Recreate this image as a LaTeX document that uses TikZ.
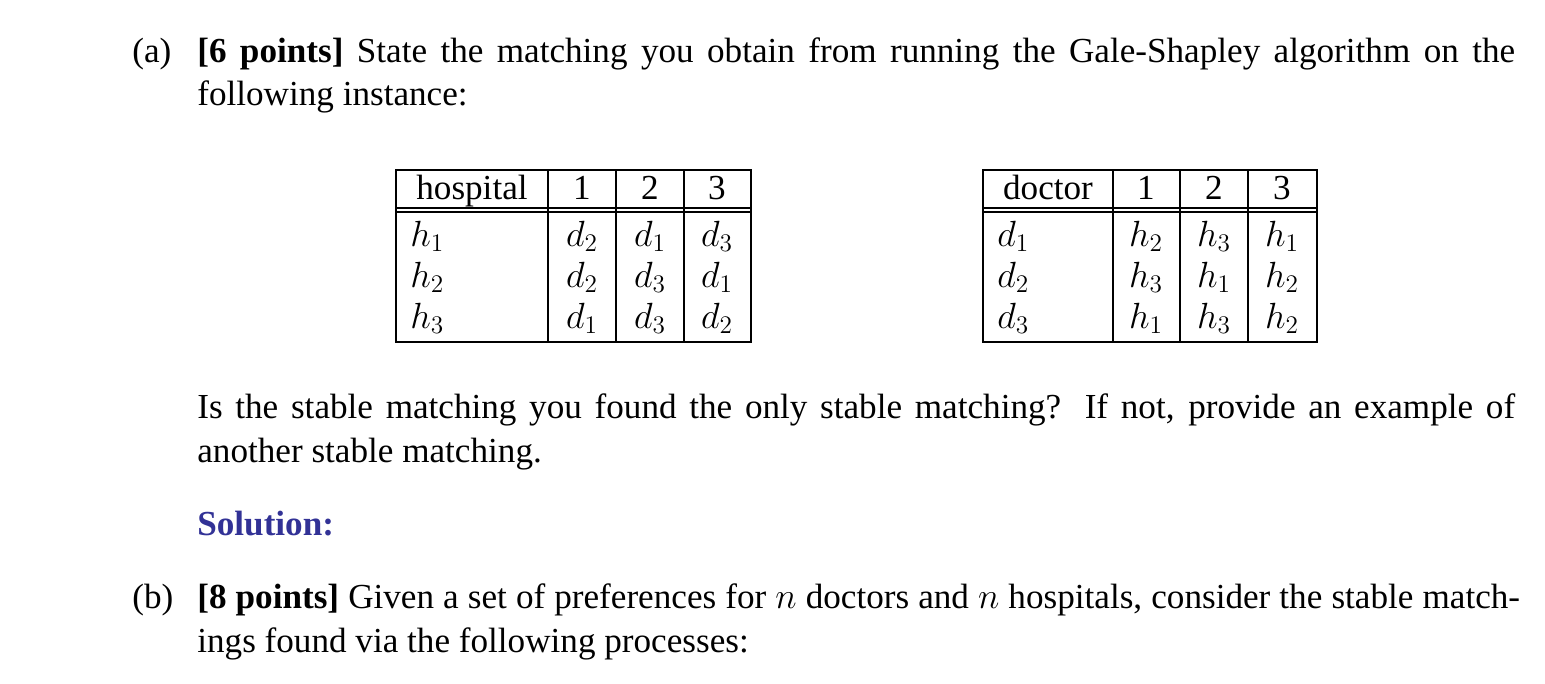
\documentclass[tikz,border=0pt]{standalone}
\usepackage{fontspec}
\setmainfont{Liberation Serif}
\begin{document}
\begin{tikzpicture}[x=0.02cm,y=-0.02cm,
  txt/.style={anchor=base west,inner sep=0pt,font=\fontsize{20}{24}\selectfont},
  cell/.style={anchor=base,inner sep=0pt,font=\fontsize{20}{24}\selectfont},
  tl/.style={line width=0.6pt}]
\useasboundingbox (0,0) rectangle (1545,683);
\definecolor{solblue}{RGB}{50,50,150}
\node[txt] (la) at (132,62) {(a)};
\node[txt] (l1) at (197,62) {\makebox[26.36cm][s]{\textbf{[6 points]} State the matching you obtain from running the Gale-Shapley algorithm on the}};
\node[txt] (l2) at (197,105) {following instance:};
% hospital table
\draw[tl] (396,170) rectangle (751,342);
\draw[tl] (396,208) -- (751,208) (396,212) -- (751,212);
\foreach \x in {548,616,684} \draw[tl] (\x,170) -- (\x,342);
\node[cell] (hh) at (472,199) {hospital};
\node[cell] (h1c) at (582,199) {1};
\node[cell] (h2c) at (650,199) {2};
\node[cell] (h3c) at (717,199) {3};
\node[txt] (hr1) at (410,246) {$h_1$};
\node[txt] (hr2) at (410,287) {$h_2$};
\node[txt] (hr3) at (410,328) {$h_3$};
\node[cell] at (582,246) {$d_2$};\node[cell] at (650,246) {$d_1$};\node[cell] at (717,246) {$d_3$};
\node[cell] at (582,287) {$d_2$};\node[cell] at (650,287) {$d_3$};\node[cell] at (717,287) {$d_1$};
\node[cell] at (582,328) {$d_1$};\node[cell] at (650,328) {$d_3$};\node[cell] at (717,328) {$d_2$};
% doctor table
\draw[tl] (983,170) rectangle (1317,342);
\draw[tl] (983,208) -- (1317,208) (983,212) -- (1317,212);
\foreach \x in {1113,1180,1248} \draw[tl] (\x,170) -- (\x,342);
\node[cell] (dh) at (1048,199) {doctor};
\node[cell] at (1146,199) {1};
\node[cell] at (1214,199) {2};
\node[cell] at (1282,199) {3};
\node[txt] at (997,246) {$d_1$};
\node[txt] at (997,287) {$d_2$};
\node[txt] at (997,328) {$d_3$};
\node[cell] at (1146,246) {$h_2$};\node[cell] at (1214,246) {$h_3$};\node[cell] at (1282,246) {$h_1$};
\node[cell] at (1146,287) {$h_3$};\node[cell] at (1214,287) {$h_1$};\node[cell] at (1282,287) {$h_2$};
\node[cell] at (1146,328) {$h_1$};\node[cell] at (1214,328) {$h_3$};\node[cell] at (1282,328) {$h_2$};
\node[txt] (q1) at (197,418) {\makebox[26.36cm][s]{Is the stable matching you found the only stable matching? If not, provide an example of}};
\node[txt] (q2) at (197,462) {another stable matching.};
\node[txt,text=solblue] (sol) at (197,535) {\textbf{Solution:}};
\node[txt] (lb) at (132,608) {(b)};
\node[txt] (b1) at (197,608) {\makebox[26.46cm][s]{\textbf{[8 points]} Given a set of preferences for $n$ doctors and $n$ hospitals, consider the stable match-}};
\node[txt] (b2) at (197,652) {ings found via the following processes:};
\end{tikzpicture}
\end{document}
